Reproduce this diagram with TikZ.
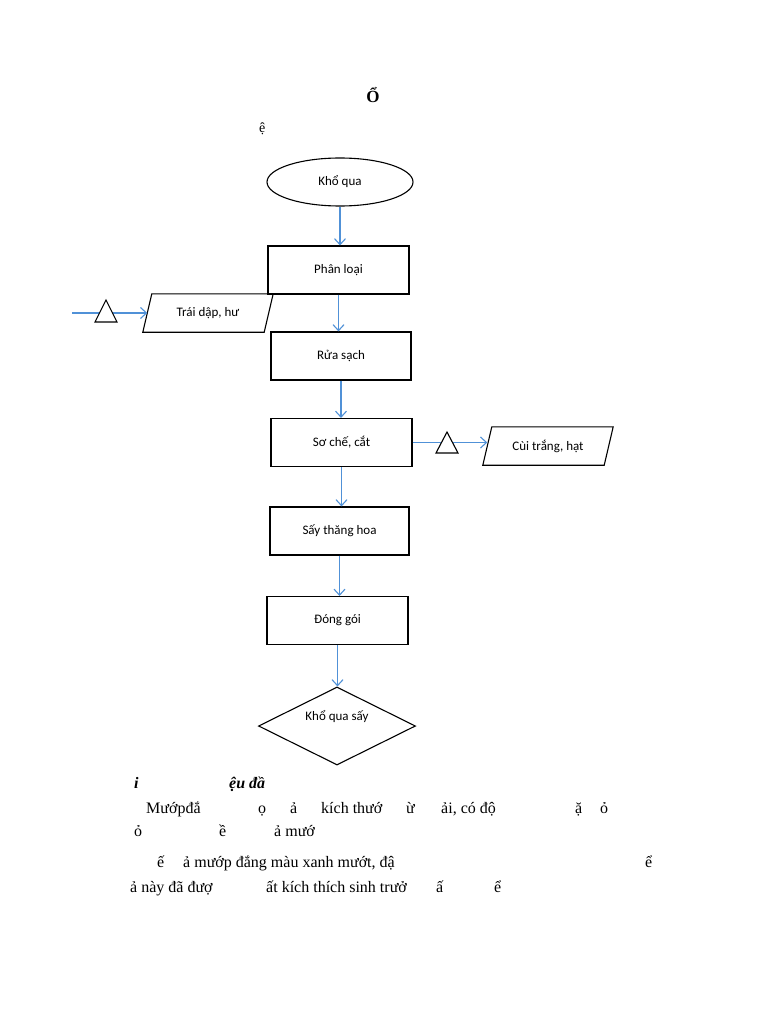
\documentclass[tikz,border=0pt]{standalone}
\usepackage{fontspec}
\setmainfont{Liberation Serif}
\newfontfamily\flowfont{Carlito}
\usetikzlibrary{shapes.geometric,arrows.meta}
\definecolor{arrowblue}{RGB}{80,145,215}
\begin{document}
\begin{tikzpicture}[x=1pt,y=-1pt,
  flowtext/.style={font=\flowfont\fontsize{13}{15}\selectfont},
  box/.style={draw, line width=1.1pt, minimum width=141pt, minimum height=48pt, inner sep=0pt, flowtext},
  para/.style={minimum width=121pt, minimum height=38pt, inner sep=0pt, flowtext},
  flow/.style={draw=arrowblue, line width=1.1pt, -{Straight Barb[length=6pt,width=11pt]}},
  body/.style={anchor=base west, inner sep=0pt, font=\fontsize{16}{19}\selectfont},
  tri/.style={draw, fill=white, line width=1.1pt},
  edge/.style={line width=1.1pt}]
\fill[white] (0,0) rectangle (768,1024);
\useasboundingbox (0,0) rectangle (768,1024);

% headings
\node[anchor=base, inner sep=0pt, font=\bfseries\fontsize{17}{20}\selectfont] (title) at (373,103) {Ổ};
\node[body, font=\fontsize{14}{16}\selectfont] (sub) at (259,133) {ệ};

% flowchart
\node[draw, ellipse, minimum width=146pt, minimum height=48pt, inner sep=0pt, edge, flowtext] (kho) at (340,182) {Khổ qua};
\node[box] (phan) at (338.5,270) {Phân loại};
\draw[line width=1.8pt] (phan.south west) -- (phan.south east) -- (phan.north east);
\node[box, minimum width=140pt] (rua) at (341,356) {Rửa sạch};
\node[box] (so) at (341.5,442.5) {Sơ chế, cắt};
\node[box, minimum width=139pt] (say) at (339.5,531) {Sấy thăng hoa};
\node[box] (dong) at (337.5,620.5) {Đóng gói};
\node[draw, diamond, minimum width=157pt, minimum height=78pt, inner sep=0pt, edge] (kqs) at (337,726) {};
\node[flowtext, inner sep=0pt] (kqstext) at (337,717) {Khổ qua sấy};

\node[para] (trai) at (208,313) {Trái dập, hư};
\draw[edge] ([xshift=-4.5pt]trai.south west) -- ([xshift=4.5pt]trai.north west) -- ([xshift=4.5pt]trai.north east) -- ([xshift=-4.5pt]trai.south east) -- cycle;
\node[para] (cui) at (548,446) {Cùi trắng, hạt};
\draw[edge] ([xshift=-4.5pt]cui.south west) -- ([xshift=4.5pt]cui.north west) -- ([xshift=4.5pt]cui.north east) -- ([xshift=-4.5pt]cui.south east) -- cycle;

% connectors
\draw[flow] (kho.south) -- (kho.south |- phan.north);
\draw[flow] (phan.south) -- (phan.south |- rua.north);
\draw[flow] (rua.south) -- (rua.south |- so.north);
\draw[flow] (so.south) -- (so.south |- say.north);
\draw[flow] (say.south) -- (say.south |- dong.north);
\draw[flow] (dong.south) -- (dong.south |- kqs.north);
\coordinate (lstart) at (72,313);
\draw[flow] (lstart) -- (trai.west);
\draw[flow] (so.east) -- (so.east -| cui.west);

% triangles
\draw[tri] (95,322) -- (106,300) -- (117,322) -- cycle;
\draw[tri] (436,453) -- (447,432) -- (458,453) -- cycle;

% body text fragments
\node[body, font=\bfseries\itshape\fontsize{16}{19}\selectfont] (h1) at (134,788) {i};
\node[body, font=\bfseries\itshape\fontsize{16}{19}\selectfont] (h2) at (229,788) {ệu đầ};

\node[body] (a1) at (146,813) {Mướpđắ};
\node[body] (a2) at (258,813) {ọ};
\node[body] (a3) at (290,813) {ả};
\node[body] (a4) at (321,813) {kích thướ};
\node[body] (a5) at (406,813) {ừ};
\node[body] (a6) at (441,813) {ải, có độ};
\node[body] (a7) at (575,813) {ặ};
\node[body] (a8) at (600,813) {ỏ};

\node[body] (b1) at (134,836) {ỏ};
\node[body] (b2) at (219,836) {ề};
\node[body] (b3) at (274,836) {ả mướ};

\node[body] (c1) at (157,867) {ế};
\node[body] (c2) at (183,867) {ả mướp đắng màu xanh mướt, đậ};
\node[body] (c3) at (645,867) {ể};

\node[body] (d1) at (130,892) {ả này đã đượ};
\node[body] (d2) at (266,892) {ất kích thích sinh trưở};
\node[body] (d3) at (436,892) {ấ};
\node[body] (d4) at (494,892) {ể};
\end{tikzpicture}
\end{document}
